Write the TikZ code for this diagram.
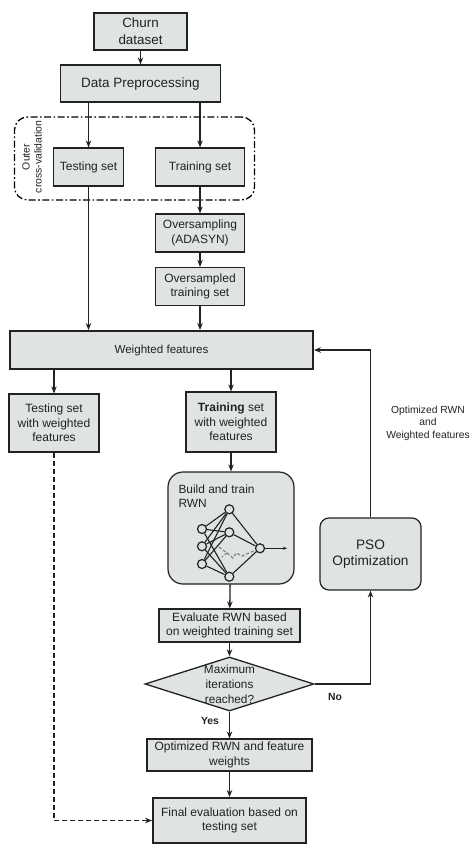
\documentclass[tikz,border=0pt]{standalone}
\usepackage{fontspec}
\setmainfont{Liberation Sans}
\usetikzlibrary{arrows.meta,shapes.geometric}
\definecolor{boxgray}{HTML}{DFE3E3}
\definecolor{inkgray}{HTML}{222222}
\tikzset{
    procbox/.style={rectangle, draw=inkgray, line width=1.2pt, fill=boxgray, text=inkgray, align=center, inner sep=0pt, font=\fontsize{12pt}{14.5pt}\selectfont},
    heavybox/.style={procbox, line width=1.9pt},
    flow/.style={-{Stealth[length=7pt,width=5.5pt,fill=boxgray]}, draw=inkgray, line width=1.3pt},
    neuron/.style={circle, draw=inkgray, line width=1.2pt, fill=boxgray, minimum size=9pt, inner sep=0pt},
    synapse/.style={draw=inkgray, line width=1.1pt},
    sidelabel/.style={text=inkgray, align=center, inner sep=0pt}
}
\begin{document}
\begin{tikzpicture}[node distance=50pt]
    \useasboundingbox (0pt,0pt) rectangle (474pt,-854pt);

    \node (churn) [procbox, minimum width=93pt, minimum height=37pt, font=\fontsize{13.4pt}{16.7pt}\selectfont] at (140.5pt,-31.5pt) {Churn\\dataset};
    \node (preproc) [procbox, minimum width=160pt, minimum height=37pt, text depth=1.5pt, font=\fontsize{13.5pt}{16pt}\selectfont, below of=churn, yshift=-2pt] {Data Preprocessing};

    \node (outer) [draw=black, line width=1.3pt, dash pattern=on 7pt off 2.5pt on 1.6pt off 2.5pt, rounded corners=13pt, minimum width=240pt, minimum height=83pt, below of=preproc, xshift=-6pt, yshift=-25pt] {};
    \node (outerlabel) [sidelabel, rotate=90, font=\fontsize{10.4pt}{12pt}\selectfont] at (32pt,-157pt) {Outer\\cross-validation};

    \node (testset) [procbox, minimum width=70pt, minimum height=38pt, text depth=1.5pt, below of=preproc, xshift=-52pt, yshift=-33.5pt] {Testing set};
    \node (trainset) [procbox, minimum width=89pt, minimum height=38pt, text depth=1.5pt, right of=testset, xshift=61.5pt] {Training set};
    \node (oversampling) [procbox, minimum width=89pt, minimum height=38pt, below of=trainset, yshift=-16pt] {Oversampling\\(ADASYN)};
    \node (oversampled) [procbox, minimum width=89pt, minimum height=38pt, below of=oversampling, yshift=-3.5pt] {Oversampled\\training set};

    \node (weighted) [heavybox, minimum width=303pt, minimum height=38pt, font=\fontsize{11.6pt}{14pt}\selectfont] at (161.5pt,-350pt) {Weighted features};
    \node (testweighted) [procbox, minimum width=90pt, minimum height=58pt, below of=weighted, xshift=-107.5pt, yshift=-23pt] {Testing set\\with weighted\\features};
    \node (trainweighted) [procbox, minimum width=90pt, minimum height=60pt, below of=weighted, xshift=69.5pt, yshift=-22pt] {\textbf{Training} set\\with weighted\\features};

    \node (buildrwn) [procbox, rounded corners=15pt, minimum width=126pt, minimum height=112pt, below of=trainweighted, yshift=-56pt] {};
    \node (buildlabel) [sidelabel, align=left, font=\fontsize{11.9pt}{14.3pt}\selectfont, anchor=north west] at (178.3pt,-484.5pt) {Build and train\\RWN};

    % small network inside the box
    \node (inone) [neuron] at (202pt,-529pt) {};
    \node (intwo) [neuron] at (202pt,-546.3pt) {};
    \node (inthree) [neuron] at (202pt,-564pt) {};
    \node (hidone) [neuron] at (229.3pt,-509.3pt) {};
    \node (hidtwo) [neuron] at (229.3pt,-532.3pt) {};
    \node (hidthree) [neuron] at (229.3pt,-576.7pt) {};
    \node (rwnout) [neuron] at (260pt,-548.3pt) {};
    \coordinate (rwnend) at (287pt,-548.3pt);
    \foreach \a in {inone,intwo,inthree}
        \foreach \b in {hidone,hidtwo,hidthree}
            \draw[synapse] (\a) -- (\b);
    \foreach \b in {hidone,hidtwo,hidthree}
        \draw[synapse] (\b) -- (rwnout);
    \draw[-{Stealth[length=4pt,width=3.2pt]}, draw=inkgray, line width=0.7pt] (rwnout) -- (rwnend);
    \coordinate (hidfour) at (227pt,-553pt);
    \draw[gray, line width=1.2pt, dash pattern=on 3pt off 2pt] (219pt,-547pt) -- (hidfour) -- (222pt,-557pt);
    \draw[gray, line width=1.2pt, dash pattern=on 3pt off 2pt] (hidfour) -- (233pt,-558pt) -- (236pt,-553pt) -- (242pt,-556pt) -- (rwnout);

    \node (pso) [procbox, rounded corners=9pt, minimum width=101pt, minimum height=72pt, font=\fontsize{13.7pt}{16.5pt}\selectfont] at (370.5pt,-554pt) {PSO\\Optimization};
    \node (psolabel) [sidelabel, font=\fontsize{10.3pt}{12.5pt}\selectfont] at (428pt,-423pt) {Optimized RWN\\and\\Weighted features};

    \node (evalrwn) [procbox, minimum width=141pt, minimum height=33pt, font=\fontsize{12pt}{14.3pt}\selectfont] at (229.5pt,-625.5pt) {Evaluate RWN based\\on weighted training set};
    \node (maxiter) [diamond, aspect=3.13, draw=inkgray, line width=1.3pt, fill=boxgray, text=inkgray, align=center, inner sep=0pt, minimum width=169pt, minimum height=54pt, below of=evalrwn, yshift=-8.5pt] {};
    \node (maxiterlabel) [sidelabel, font=\fontsize{11.8pt}{14.8pt}\selectfont] at (maxiter) {Maximum\\iterations\\reached?};
    \node (optrwn) [procbox, minimum width=165pt, minimum height=32pt, font=\fontsize{12pt}{14.3pt}\selectfont, below of=maxiter, yshift=-21pt] {Optimized RWN and feature\\weights};
    \node (finaleval) [heavybox, minimum width=153pt, minimum height=45pt, font=\fontsize{12pt}{14.3pt}\selectfont, below of=optrwn, yshift=-15.5pt] {Final evaluation based on\\testing set};

    \node (yeslabel) [sidelabel, font=\fontsize{10.4pt}{12pt}\selectfont\bfseries] at (210pt,-720.7pt) {Yes};
    \node (nolabel) [sidelabel, font=\fontsize{10.4pt}{12pt}\selectfont\bfseries] at (335pt,-697pt) {No};

    \draw[flow] (churn) -- (preproc);
    \draw[flow] (preproc.south -| testset) -- (testset);
    \draw[flow] (preproc.south -| trainset) -- (trainset);
    \draw[flow] (trainset) -- (oversampling);
    \draw[flow] (oversampling) -- (oversampled);
    \draw[flow] (oversampled) -- (oversampled |- weighted.north);
    \draw[flow] (testset) -- (testset |- weighted.north);
    \draw[flow] (weighted.south -| testweighted) -- (testweighted);
    \draw[flow] (weighted.south -| trainweighted) -- (trainweighted);
    \draw[flow] (trainweighted) -- (buildrwn);
    \draw[flow] (buildrwn) -- (evalrwn);
    \draw[flow] (evalrwn) -- (maxiter);
    \draw[flow] (maxiter) -- (optrwn);
    \draw[flow] (optrwn) -- (finaleval);
    \draw[flow] (maxiter.east) -| (pso);
    \draw[flow] (pso) |- (weighted);
    \draw[flow, dash pattern=on 5pt off 3pt] (testweighted) |- (finaleval);
\end{tikzpicture}
\end{document}
